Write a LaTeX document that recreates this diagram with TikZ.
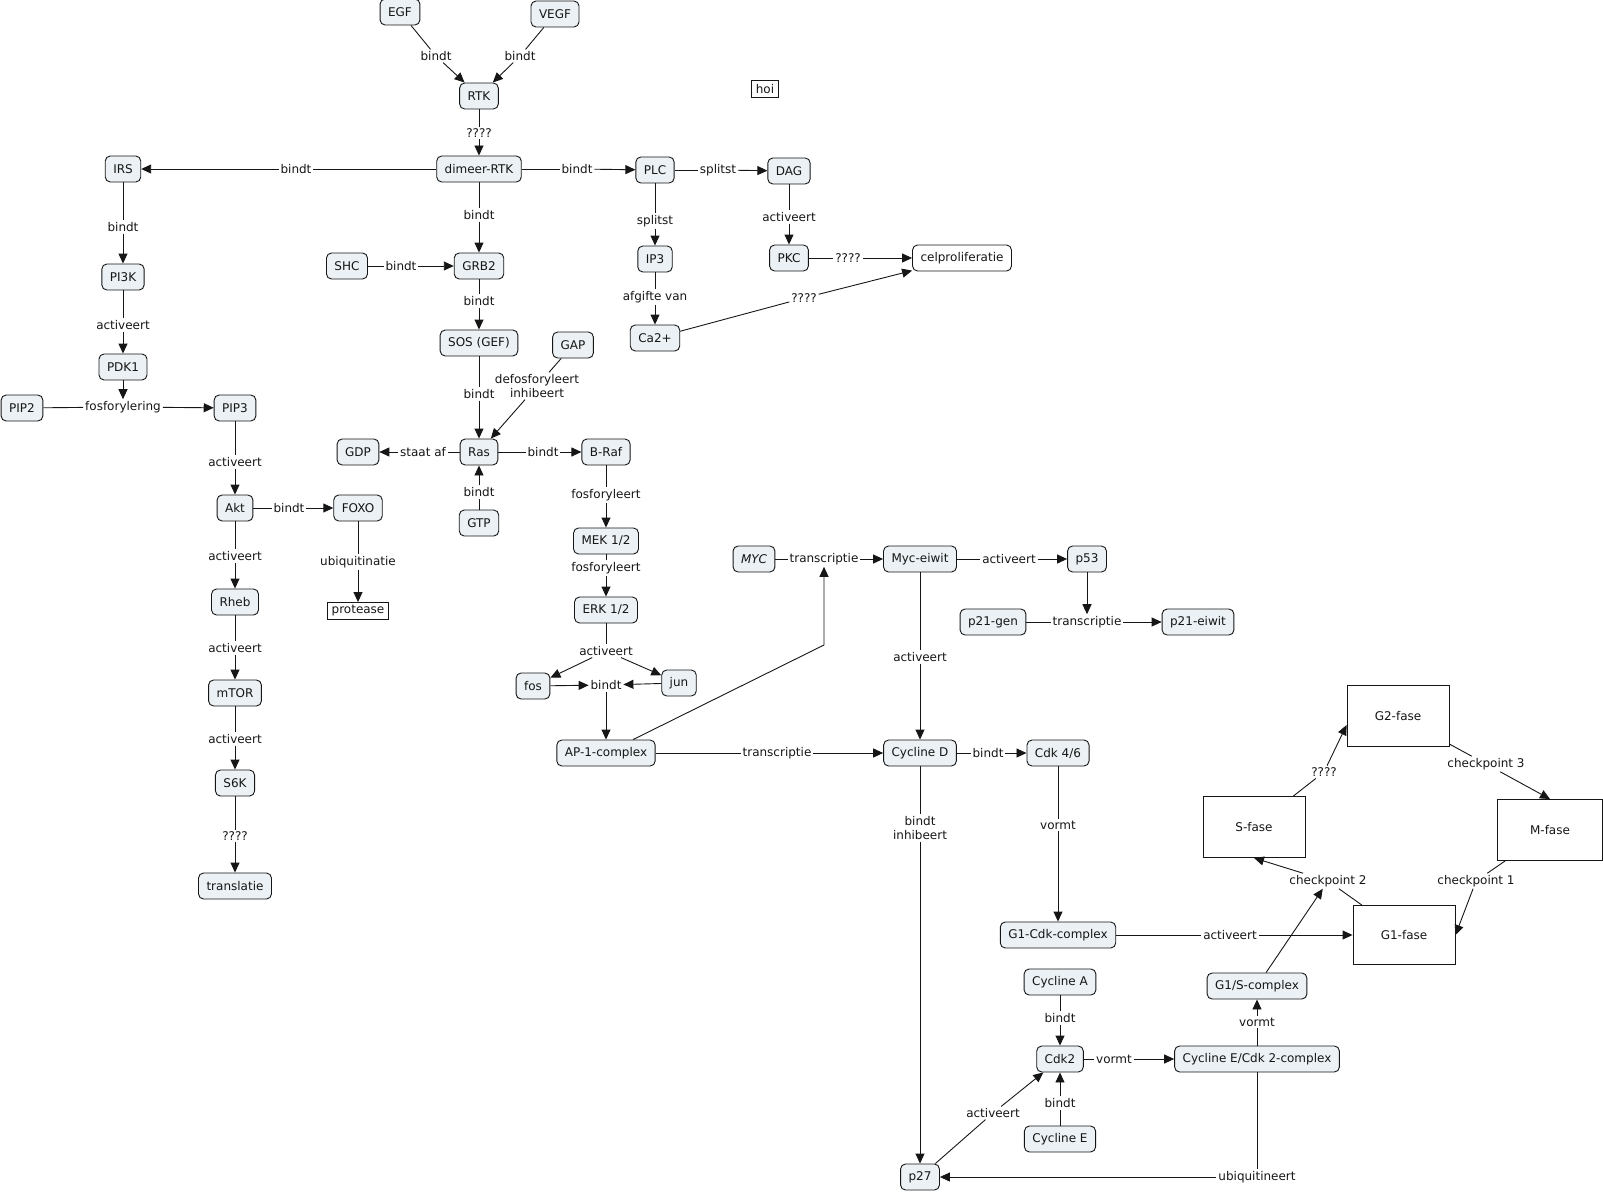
\documentclass[tikz,border=0pt]{standalone}
\usepackage{fontspec}
\setmainfont{DejaVu Sans}
\usetikzlibrary{arrows.meta}
\definecolor{conceptc}{HTML}{EBF1F4}
\definecolor{linec}{HTML}{161616}
\newcommand{\cmfont}{\fontsize{12}{14}\selectfont}
% concept -- phrase -> concept
\newcommand{\cmlink}[3]{%
  \draw (#1) -- (#2);
  \draw[->] (#2) -- (#3);
}

\begin{document}
\begin{tikzpicture}[x=1pt, y=-1pt, >={Triangle[length=10pt,width=9pt]},
    line width=0.9pt, color=linec, font=\cmfont,
    concept/.style={draw, rounded corners=5pt, fill=conceptc,
      minimum height=26pt, inner xsep=8pt, inner ysep=2pt},
    phrase/.style={inner sep=1.5pt, align=center},
    phase/.style={draw, fill=white, minimum width=102pt, minimum height=61pt},
    plainbox/.style={draw, fill=white, minimum height=17pt, inner xsep=4pt, inner ysep=2pt}]
  \useasboundingbox (0,0) rectangle (1603,1193);

  % concepts
  \foreach \n/\x/\y/\t in {egf/400/12/EGF, vegf/555/14/VEGF, rtk/479/96/RTK,
      dimeer/479/169/dimeer-RTK, irs/123/169/IRS, plc/655/170/PLC, dag/789/171/DAG,
      ip3/655/259/IP3, pkc/789/258/PKC, ca/655/338/Ca2+, grb2/479/266/GRB2,
      shc/347/266/SHC, sos/479/343/SOS (GEF), gap/573/345/GAP, pi3k/123/277/PI3K,
      pdk1/123/367/PDK1, pip2/22/408/PIP2, pip3/235/408/PIP3, ras/479/452/Ras,
      gdp/358/452/GDP, braf/606/452/B-Raf, gtp/479/523/GTP, akt/235/508/Akt,
      foxo/358/508/FOXO, rheb/235/602/Rheb, mtor/235/693/mTOR, s6k/235/783/S6K,
      transl/235/886/translatie, mek/606/541/{MEK 1/2}, erk/606/610/{ERK 1/2},
      fos/533/686/fos, jun/679/683/jun, ap1/606/753/AP-1-complex,
      myceiwit/920/559/Myc-eiwit, p53/1087/559/p53, p21gen/993/622/p21-gen,
      p21eiwit/1198/622/p21-eiwit, cycd/920/753/Cycline D, cdk46/1058/753/{Cdk 4/6},
      g1cdk/1058/935/G1-Cdk-complex, cyca/1060/982/Cycline A, cdk2/1060/1059/Cdk2,
      cyce/1060/1139/Cycline E, cecdk/1257/1059/{Cycline E/Cdk 2-complex},
      g1s/1257/986/{G1/S-complex}, p27/920/1177/p27}
    \node[concept] (\n) at (\x,\y) {\t};
  \node[concept, font=\cmfont\itshape] (myc) at (754,559) {MYC};
  \node[concept, fill=white] (celprol) at (962,258) {celproliferatie};
  \node[plainbox] (hoi) at (765,89) {hoi};
  \node[plainbox] (protease) at (358,611) {protease};

  % cell cycle
  \node[phase] (g2fase) at (1398,716) {G2-fase};
  \node[phase] (sfase) at (1254,827) {S-fase};
  \node[phase, minimum width=105pt] (mfase) at (1550,830) {M-fase};
  \node[phase, minimum height=59pt] (g1fase) at (1404,935) {G1-fase};

  % linking phrases
  \foreach \n/\x/\y/\t in {l-egf/436/56/bindt, l-vegf/520/56/bindt, l-rtk/479/133/????,
      l-irs/296/169/bindt, l-plc/577/169/bindt, l-grb/479/215/bindt,
      l-shc/401/266/bindt, l-sos/479/301/bindt, l-ras/479/394/bindt,
      l-gtp/479/492/bindt, l-gdp/423/452/staat af, l-braf/543/452/bindt,
      l-mek/606/495/fosforyleert, l-erk/606/568/fosforyleert, l-fj/606/651/activeert,
      l-ap/606/685/bindt, l-dag/718/170/splitst, l-ip3/655/221/splitst,
      l-pkc/789/217/activeert, l-ca/655/297/afgifte van, l-pkcc/848/258/????,
      l-cac/804/298/????, l-pi3k/123/227/bindt, l-pdk1/123/325/activeert,
      l-pip/123/407/fosforylering, l-akt/235/462/activeert, l-foxo/289/508/bindt,
      l-ubq/358/562/ubiquitinatie, l-rheb/235/556/activeert, l-mtor/235/648/activeert,
      l-s6k/235/739/activeert, l-tr/235/836/????, l-myc/824/559/transcriptie,
      l-p53/1009/559/activeert, l-p21/1087/622/transcriptie, l-cycd/920/657/activeert,
      l-ap1/777/753/transcriptie, l-cdk46/988/753/bindt, l-g1cdk/1058/825/vormt,
      l-g1f/1230/935/activeert, l-cyca/1060/1018/bindt, l-cdk2/1114/1059/vormt,
      l-cyce/1060/1103/bindt, l-p27/993/1113/activeert, l-g1s/1257/1022/vormt,
      l-ubiq/1257/1177/ubiquitineert, l-s/1324/772/????, l-g2/1486/764/checkpoint 3,
      l-m/1476/881/checkpoint 1, l-g1/1328/881/checkpoint 2}
    \node[phrase] (\n) at (\x,\y) {\t};
  \node[phrase] (l-gap) at (537,386) {defosforyleert\\inhibeert};
  \node[phrase] (l-p27b) at (920,828) {bindt\\inhibeert};

  % links
  \foreach \a/\l/\b in {egf/l-egf/rtk, vegf/l-vegf/rtk, rtk/l-rtk/dimeer,
      dimeer/l-irs/irs, dimeer/l-plc/plc, dimeer/l-grb/grb2, shc/l-shc/grb2,
      grb2/l-sos/sos, sos/l-ras/ras, gap/l-gap/ras, gtp/l-gtp/ras, ras/l-gdp/gdp,
      ras/l-braf/braf, braf/l-mek/mek, mek/l-erk/erk, erk/l-fj/fos,
      plc/l-dag/dag, plc/l-ip3/ip3, dag/l-pkc/pkc, ip3/l-ca/ca, pkc/l-pkcc/celprol,
      ca/l-cac/celprol, irs/l-pi3k/pi3k, pi3k/l-pdk1/pdk1, pip2/l-pip/pip3,
      pip3/l-akt/akt, akt/l-foxo/foxo, foxo/l-ubq/protease, akt/l-rheb/rheb,
      rheb/l-mtor/mtor, mtor/l-s6k/s6k, s6k/l-tr/transl, myc/l-myc/myceiwit,
      myceiwit/l-p53/p53, p21gen/l-p21/p21eiwit, myceiwit/l-cycd/cycd,
      ap1/l-ap1/cycd, cycd/l-cdk46/cdk46, cdk46/l-g1cdk/g1cdk, g1cdk/l-g1f/g1fase,
      cyca/l-cyca/cdk2, cdk2/l-cdk2/cecdk, cyce/l-cyce/cdk2, p27/l-p27/cdk2,
      cecdk/l-g1s/g1s, cecdk/l-ubiq/p27, cycd/l-p27b/p27, sfase/l-s/g2fase.190,
      g2fase/l-g2/mfase.north, mfase/l-m/g1fase.east, g1fase/l-g1/sfase.south}
    \cmlink{\a}{\l}{\b};

  % arrows into phrases
  \draw[->] (l-fj) -- (jun);
  \draw[->] (fos) -- (l-ap);
  \draw[->] (jun) -- (l-ap);
  \draw[->] (l-ap) -- (ap1);
  \draw[->] (pdk1) -- (l-pip);
  \draw[->] (p53) -- (l-p21);
  \draw[->] (g1s) -- (l-g1);
  \coordinate (apbend) at (824,645);
  \draw[->] (ap1) -- (apbend) -- (l-myc);
\end{tikzpicture}
\end{document}
